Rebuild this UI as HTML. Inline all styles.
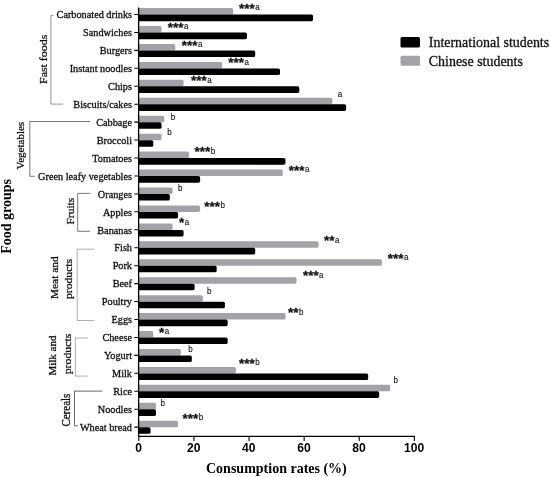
<!DOCTYPE html>
<html><head><meta charset="utf-8"><title>Food groups consumption rates</title>
<style>html,body{margin:0;padding:0;background:#fff}svg{display:block}.c{font-family:"Liberation Serif","Times New Roman",serif;font-size:10.25px;fill:#111;stroke:#111;stroke-width:0.3}.g{font-family:"Liberation Serif","Times New Roman",serif;font-size:11px;fill:#111;stroke:#111;stroke-width:0.3}.l{font-family:"Liberation Serif","Times New Roman",serif;font-size:13.95px;fill:#111;stroke:#111;stroke-width:0.3}.t{font-family:"Liberation Serif","Times New Roman",serif;font-weight:bold;font-size:14px;fill:#000}.n{font-family:"Liberation Sans",Arial,sans-serif;font-weight:bold;font-size:12.1px;fill:#000}.s{font-family:"Liberation Sans",Arial,sans-serif;font-weight:bold;font-size:13.4px;letter-spacing:0.04px;fill:#111;stroke:#111;stroke-width:0.3;stroke-linejoin:round}.a{font-family:"Liberation Sans",Arial,sans-serif;font-size:8px;fill:#111;stroke:#111;stroke-width:0.1}.b{fill:none;stroke:#8a8a8a;stroke-width:0.9}</style></head><body>
<svg width="550" height="477" viewBox="0 0 550 477">
<rect width="550" height="477" fill="#fff"/>
<path d="M138.85 8.10H231.57Q233.17 8.10 233.17 9.70V13.00Q233.17 14.60 231.57 14.60H138.85Z" fill="#a2a2a7"/>
<path d="M138.85 14.60H311.46Q313.06 14.60 313.06 16.20V19.60Q313.06 21.20 311.46 21.20H138.85Z" fill="#000"/>
<path d="M138.85 26.04H159.94Q161.54 26.04 161.54 27.64V30.94Q161.54 32.54 159.94 32.54H138.85Z" fill="#a2a2a7"/>
<path d="M138.85 32.54H245.34Q246.94 32.54 246.94 34.14V37.54Q246.94 39.14 245.34 39.14H138.85Z" fill="#000"/>
<path d="M138.85 43.98H173.72Q175.31 43.98 175.31 45.58V48.88Q175.31 50.48 173.72 50.48H138.85Z" fill="#a2a2a7"/>
<path d="M138.85 50.48H253.61Q255.21 50.48 255.21 52.08V55.48Q255.21 57.08 253.61 57.08H138.85Z" fill="#000"/>
<path d="M138.85 61.92H220.55Q222.15 61.92 222.15 63.52V66.82Q222.15 68.42 220.55 68.42H138.85Z" fill="#a2a2a7"/>
<path d="M138.85 68.42H278.40Q280.00 68.42 280.00 70.02V73.42Q280.00 75.02 278.40 75.02H138.85Z" fill="#000"/>
<path d="M138.85 79.86H181.98Q183.58 79.86 183.58 81.46V84.76Q183.58 86.36 181.98 86.36H138.85Z" fill="#a2a2a7"/>
<path d="M138.85 86.36H297.69Q299.29 86.36 299.29 87.96V91.36Q299.29 92.96 297.69 92.96H138.85Z" fill="#000"/>
<path d="M138.85 97.80H330.75Q332.35 97.80 332.35 99.40V102.70Q332.35 104.30 330.75 104.30H138.85Z" fill="#a2a2a7"/>
<path d="M138.85 104.30H344.52Q346.12 104.30 346.12 105.90V109.30Q346.12 110.90 344.52 110.90H138.85Z" fill="#000"/>
<path d="M138.85 115.74H162.69Q164.29 115.74 164.29 117.34V120.64Q164.29 122.24 162.69 122.24H138.85Z" fill="#a2a2a7"/>
<path d="M138.85 122.24H159.94Q161.54 122.24 161.54 123.84V127.24Q161.54 128.84 159.94 128.84H138.85Z" fill="#000"/>
<path d="M138.85 133.68H159.94Q161.54 133.68 161.54 135.28V138.58Q161.54 140.18 159.94 140.18H138.85Z" fill="#a2a2a7"/>
<path d="M138.85 140.18H151.68Q153.28 140.18 153.28 141.78V145.18Q153.28 146.78 151.68 146.78H138.85Z" fill="#000"/>
<path d="M138.85 151.62H187.49Q189.09 151.62 189.09 153.22V156.52Q189.09 158.12 187.49 158.12H138.85Z" fill="#a2a2a7"/>
<path d="M138.85 158.12H283.91Q285.51 158.12 285.51 159.72V163.12Q285.51 164.72 283.91 164.72H138.85Z" fill="#000"/>
<path d="M138.85 169.56H281.16Q282.76 169.56 282.76 171.16V174.46Q282.76 176.06 281.16 176.06H138.85Z" fill="#a2a2a7"/>
<path d="M138.85 176.06H198.51Q200.11 176.06 200.11 177.66V181.06Q200.11 182.66 198.51 182.66H138.85Z" fill="#000"/>
<path d="M138.85 187.50H170.96Q172.56 187.50 172.56 189.10V192.40Q172.56 194.00 170.96 194.00H138.85Z" fill="#a2a2a7"/>
<path d="M138.85 194.00H168.21Q169.81 194.00 169.81 195.60V199.00Q169.81 200.60 168.21 200.60H138.85Z" fill="#000"/>
<path d="M138.85 205.44H198.51Q200.11 205.44 200.11 207.04V210.34Q200.11 211.94 198.51 211.94H138.85Z" fill="#a2a2a7"/>
<path d="M138.85 211.94H176.47Q178.07 211.94 178.07 213.54V216.94Q178.07 218.54 176.47 218.54H138.85Z" fill="#000"/>
<path d="M138.85 223.38H170.96Q172.56 223.38 172.56 224.98V228.28Q172.56 229.88 170.96 229.88H138.85Z" fill="#a2a2a7"/>
<path d="M138.85 229.88H181.98Q183.58 229.88 183.58 231.48V234.88Q183.58 236.48 181.98 236.48H138.85Z" fill="#000"/>
<path d="M138.85 241.32H316.97Q318.57 241.32 318.57 242.92V246.22Q318.57 247.82 316.97 247.82H138.85Z" fill="#a2a2a7"/>
<path d="M138.85 247.82H253.61Q255.21 247.82 255.21 249.42V252.82Q255.21 254.42 253.61 254.42H138.85Z" fill="#000"/>
<path d="M138.85 259.26H380.34Q381.94 259.26 381.94 260.86V264.16Q381.94 265.76 380.34 265.76H138.85Z" fill="#a2a2a7"/>
<path d="M138.85 265.76H215.04Q216.64 265.76 216.64 267.36V270.76Q216.64 272.36 215.04 272.36H138.85Z" fill="#000"/>
<path d="M138.85 277.20H294.93Q296.53 277.20 296.53 278.80V282.10Q296.53 283.70 294.93 283.70H138.85Z" fill="#a2a2a7"/>
<path d="M138.85 283.70H193.00Q194.60 283.70 194.60 285.30V288.70Q194.60 290.30 193.00 290.30H138.85Z" fill="#000"/>
<path d="M138.85 295.14H201.27Q202.87 295.14 202.87 296.74V300.04Q202.87 301.64 201.27 301.64H138.85Z" fill="#a2a2a7"/>
<path d="M138.85 301.64H223.31Q224.91 301.64 224.91 303.24V306.64Q224.91 308.24 223.31 308.24H138.85Z" fill="#000"/>
<path d="M138.85 313.08H283.91Q285.51 313.08 285.51 314.68V317.98Q285.51 319.58 283.91 319.58H138.85Z" fill="#a2a2a7"/>
<path d="M138.85 319.58H226.06Q227.66 319.58 227.66 321.18V324.58Q227.66 326.18 226.06 326.18H138.85Z" fill="#000"/>
<path d="M138.85 331.02H151.68Q153.28 331.02 153.28 332.62V335.92Q153.28 337.52 151.68 337.52H138.85Z" fill="#a2a2a7"/>
<path d="M138.85 337.52H226.06Q227.66 337.52 227.66 339.12V342.52Q227.66 344.12 226.06 344.12H138.85Z" fill="#000"/>
<path d="M138.85 348.96H179.22Q180.82 348.96 180.82 350.56V353.86Q180.82 355.46 179.22 355.46H138.85Z" fill="#a2a2a7"/>
<path d="M138.85 355.46H190.25Q191.84 355.46 191.84 357.06V360.46Q191.84 362.06 190.25 362.06H138.85Z" fill="#000"/>
<path d="M138.85 366.90H234.33Q235.93 366.90 235.93 368.50V371.80Q235.93 373.40 234.33 373.40H138.85Z" fill="#a2a2a7"/>
<path d="M138.85 373.40H366.56Q368.16 373.40 368.16 375.00V378.40Q368.16 380.00 366.56 380.00H138.85Z" fill="#000"/>
<path d="M138.85 384.84H388.60Q390.20 384.84 390.20 386.44V389.74Q390.20 391.34 388.60 391.34H138.85Z" fill="#a2a2a7"/>
<path d="M138.85 391.34H377.58Q379.19 391.34 379.19 392.94V396.34Q379.19 397.94 377.58 397.94H138.85Z" fill="#000"/>
<path d="M138.85 402.78H154.43Q156.03 402.78 156.03 404.38V407.68Q156.03 409.28 154.43 409.28H138.85Z" fill="#a2a2a7"/>
<path d="M138.85 409.28H154.43Q156.03 409.28 156.03 410.88V414.28Q156.03 415.88 154.43 415.88H138.85Z" fill="#000"/>
<path d="M138.85 420.72H176.47Q178.07 420.72 178.07 422.32V425.62Q178.07 427.22 176.47 427.22H138.85Z" fill="#a2a2a7"/>
<path d="M138.85 427.22H148.92Q150.52 427.22 150.52 428.82V432.22Q150.52 433.82 148.92 433.82H138.85Z" fill="#000"/>
<path d="M138.60 7.4V436.9" stroke="#000" stroke-width="1.3" fill="none"/>
<path d="M138.20 436.3H414.7" stroke="#000" stroke-width="1.25" fill="none"/>
<path d="M134.3 14.50H138.85M134.3 32.44H138.85M134.3 50.38H138.85M134.3 68.32H138.85M134.3 86.26H138.85M134.3 104.20H138.85M134.3 122.14H138.85M134.3 140.08H138.85M134.3 158.02H138.85M134.3 175.96H138.85M134.3 193.90H138.85M134.3 211.84H138.85M134.3 229.78H138.85M134.3 247.72H138.85M134.3 265.66H138.85M134.3 283.60H138.85M134.3 301.54H138.85M134.3 319.48H138.85M134.3 337.42H138.85M134.3 355.36H138.85M134.3 373.30H138.85M134.3 391.24H138.85M134.3 409.18H138.85M134.3 427.12H138.85" stroke="#000" stroke-width="1.05" fill="none"/>
<path d="M138.85 436.3V441M193.95 436.3V441M249.05 436.3V441M304.15 436.3V441M359.25 436.3V441M414.35 436.3V441" stroke="#000" stroke-width="1.1" fill="none"/>
<text class="n" transform="translate(138.65 452) scale(1 1.03)" text-anchor="middle">0</text>
<text class="n" transform="translate(193.75 452) scale(1 1.03)" text-anchor="middle">20</text>
<text class="n" transform="translate(248.85 452) scale(1 1.03)" text-anchor="middle">40</text>
<text class="n" transform="translate(303.95 452) scale(1 1.03)" text-anchor="middle">60</text>
<text class="n" transform="translate(359.05 452) scale(1 1.03)" text-anchor="middle">80</text>
<text class="n" transform="translate(414.15 452) scale(1 1.03)" text-anchor="middle">100</text>
<text class="c" x="132" y="18.25" text-anchor="end">Carbonated drinks</text>
<text class="c" x="132" y="36.19" text-anchor="end">Sandwiches</text>
<text class="c" x="132" y="54.13" text-anchor="end">Burgers</text>
<text class="c" x="132" y="72.07" text-anchor="end">Instant noodles</text>
<text class="c" x="132" y="90.01" text-anchor="end">Chips</text>
<text class="c" x="132" y="107.95" text-anchor="end">Biscuits/cakes</text>
<text class="c" x="132" y="125.89" text-anchor="end">Cabbage</text>
<text class="c" x="132" y="143.83" text-anchor="end">Broccoli</text>
<text class="c" x="132" y="161.77" text-anchor="end">Tomatoes</text>
<text class="c" x="132" y="179.71" text-anchor="end">Green leafy vegetables</text>
<text class="c" x="132" y="197.65" text-anchor="end">Oranges</text>
<text class="c" x="132" y="215.59" text-anchor="end">Apples</text>
<text class="c" x="132" y="233.53" text-anchor="end">Bananas</text>
<text class="c" x="132" y="251.47" text-anchor="end">Fish</text>
<text class="c" x="132" y="269.41" text-anchor="end">Pork</text>
<text class="c" x="132" y="287.35" text-anchor="end">Beef</text>
<text class="c" x="132" y="305.29" text-anchor="end">Poultry</text>
<text class="c" x="132" y="323.23" text-anchor="end">Eggs</text>
<text class="c" x="132" y="341.17" text-anchor="end">Cheese</text>
<text class="c" x="132" y="359.11" text-anchor="end">Yogurt</text>
<text class="c" x="132" y="377.05" text-anchor="end">Milk</text>
<text class="c" x="132" y="394.99" text-anchor="end">Rice</text>
<text class="c" x="132" y="412.93" text-anchor="end">Noodles</text>
<text class="c" x="132" y="430.87" text-anchor="end">Wheat bread</text>
<text class="s" x="239.1" y="12.5">***</text>
<text class="a" transform="translate(255.3 9.9) scale(1 1.16)">a</text>
<text class="s" x="167.8" y="31.9">***</text>
<text class="a" transform="translate(184.1 29.3) scale(1 1.16)">a</text>
<text class="s" x="181.8" y="49.9">***</text>
<text class="a" transform="translate(198.1 47.3) scale(1 1.16)">a</text>
<text class="s" x="228.3" y="67.4">***</text>
<text class="a" transform="translate(244.6 64.8) scale(1 1.16)">a</text>
<text class="s" x="191.1" y="85.4">***</text>
<text class="a" transform="translate(207.3 82.8) scale(1 1.16)">a</text>
<text class="a" transform="translate(337.8 97.4) scale(1 1.16)">a</text>
<text class="a" transform="translate(170.7 119.5) scale(1 1.16)">b</text>
<text class="a" transform="translate(167.2 135.2) scale(1 1.16)">b</text>
<text class="s" x="194.6" y="156.4">***</text>
<text class="a" transform="translate(210.8 153.8) scale(1 1.16)">b</text>
<text class="s" x="288.7" y="174.7">***</text>
<text class="a" transform="translate(304.9 172.1) scale(1 1.16)">a</text>
<text class="a" transform="translate(178.0 190.5) scale(1 1.16)">b</text>
<text class="s" x="204.2" y="210.9">***</text>
<text class="a" transform="translate(220.4 208.3) scale(1 1.16)">b</text>
<text class="s" x="178.9" y="227.4">*</text>
<text class="a" transform="translate(184.7 224.8) scale(1 1.16)">a</text>
<text class="s" x="324.1" y="245.2">**</text>
<text class="a" transform="translate(335.1 242.6) scale(1 1.16)">a</text>
<text class="s" x="387.8" y="262.7">***</text>
<text class="a" transform="translate(404.1 260.1) scale(1 1.16)">a</text>
<text class="s" x="302.9" y="280.4">***</text>
<text class="a" transform="translate(319.1 277.8) scale(1 1.16)">a</text>
<text class="a" transform="translate(207.1 294.1) scale(1 1.16)">b</text>
<text class="s" x="288.0" y="317.1">**</text>
<text class="a" transform="translate(299.0 314.5) scale(1 1.16)">b</text>
<text class="s" x="159.1" y="336.9">*</text>
<text class="a" transform="translate(164.8 334.3) scale(1 1.16)">a</text>
<text class="a" transform="translate(188.2 351.8) scale(1 1.16)">b</text>
<text class="s" x="239.1" y="367.7">***</text>
<text class="a" transform="translate(255.3 365.1) scale(1 1.16)">b</text>
<text class="a" transform="translate(393.6 383.2) scale(1 1.16)">b</text>
<text class="a" transform="translate(160.5 405.8) scale(1 1.16)">b</text>
<text class="s" x="182.4" y="423.0">***</text>
<text class="a" transform="translate(198.7 420.4) scale(1 1.16)">b</text>
<path class="b" d="M53.4 15.6H50.9V104.1H63.2"/>
<path class="b" style="stroke:#666" d="M90.1 121.5H29.8V176.3H34.6"/>
<path class="b" style="stroke:#6a6a6a" d="M90.2 193.4H77.7V231.3H90.2"/>
<path class="b" style="stroke:#9a9a9a;stroke-width:0.8" d="M93.9 249.2H77.2V320.5H93.9"/>
<path class="b" style="stroke:#9a9a9a;stroke-width:0.8" d="M87.7 338H75.4V376.1H87.7"/>
<path class="b" style="stroke:#666;stroke-width:1" d="M102.4 391.1H74.5V425.8H77.8"/>
<text class="g" style="font-size:11.9px" transform="translate(47.2 83.9) rotate(-90) scale(1 0.86)" text-anchor="start">Fast foods</text>
<text class="g" style="font-size:11px" transform="translate(24.3 169.5) rotate(-90) scale(1 0.885)" text-anchor="start">Vegetables</text>
<text class="g" style="font-size:11.45px" transform="translate(73.9 224.5) rotate(-90) scale(1 0.87)" text-anchor="start">Fruits</text>
<text class="g" style="font-size:11.4px" transform="translate(58.0 299.1) rotate(-90) scale(1 0.95)" text-anchor="start">Meat and</text>
<text class="g" style="font-size:11.7px" transform="translate(72.2 299.1) rotate(-90) scale(1 0.87)" text-anchor="start">products</text>
<text class="g" style="font-size:11px" transform="translate(56.2 375.6) rotate(-90) scale(1 0.87)" text-anchor="start">Milk and</text>
<text class="g" style="font-size:11.8px" transform="translate(71.0 374.3) rotate(-90) scale(1 0.87)" text-anchor="start">products</text>
<text class="g" style="font-size:11px" transform="translate(69.8 426.6) rotate(-90) scale(1 1.09)" text-anchor="start">Cereals</text>
<text class="t" transform="translate(11.2 253.8) rotate(-90)" text-anchor="start">Food groups</text>
<text class="t" x="206.0" y="472.8">Consumption rates (%)</text>
<rect x="400.5" y="36.9" width="19.5" height="10.7" rx="1.6" fill="#000"/>
<rect x="400.5" y="55.8" width="19.5" height="10" rx="1.6" fill="#a2a2a7"/>
<text class="l" x="428.8" y="46.8">International students</text>
<text class="l" x="428.8" y="65.5">Chinese students</text>
</svg></body></html>
